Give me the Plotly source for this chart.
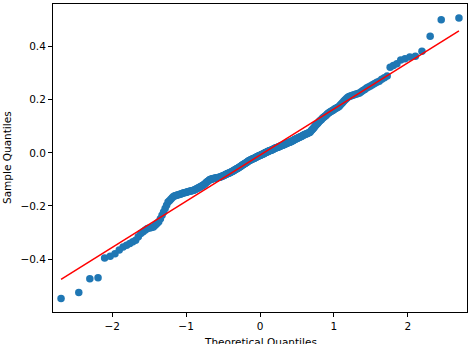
from statistics import NormalDist

import numpy as np
import plotly.graph_objects as go

# Ordered sample (residual) values, smallest to largest
sample_quantiles = [
    -0.549, -0.526, -0.474, -0.471, -0.396, -0.390, -0.380, -0.366, -0.355, -0.348,
    -0.342, -0.335, -0.329, -0.316, -0.304, -0.297, -0.291, -0.285, -0.283, -0.281,
    -0.279, -0.273, -0.266, -0.260, -0.248, -0.235, -0.223, -0.210, -0.197, -0.185,
    -0.180, -0.175, -0.169, -0.164, -0.162, -0.161, -0.159, -0.158, -0.156, -0.155,
    -0.153, -0.151, -0.150, -0.149, -0.148, -0.147, -0.146, -0.145, -0.144, -0.143,
    -0.142, -0.141, -0.139, -0.137, -0.135, -0.133, -0.131, -0.130, -0.128, -0.126,
    -0.124, -0.122, -0.119, -0.117, -0.114, -0.111, -0.108, -0.106, -0.103, -0.100,
    -0.099, -0.099, -0.098, -0.097, -0.097, -0.096, -0.095, -0.095, -0.094, -0.093,
    -0.093, -0.092, -0.091, -0.090, -0.088, -0.087, -0.086, -0.085, -0.083, -0.082,
    -0.081, -0.080, -0.078, -0.077, -0.076, -0.075, -0.073, -0.072, -0.070, -0.069,
    -0.067, -0.066, -0.064, -0.063, -0.061, -0.060, -0.058, -0.057, -0.055, -0.053,
    -0.051, -0.050, -0.048, -0.046, -0.045, -0.043, -0.041, -0.040, -0.038, -0.036,
    -0.035, -0.033, -0.031, -0.030, -0.028, -0.027, -0.026, -0.024, -0.023, -0.022,
    -0.021, -0.020, -0.018, -0.017, -0.016, -0.015, -0.014, -0.012, -0.011, -0.010,
    -0.009, -0.008, -0.006, -0.005, -0.004, -0.003, -0.002, 0.000, 0.001, 0.002,
    0.003, 0.004, 0.006, 0.007, 0.008, 0.009, 0.010, 0.011, 0.012, 0.013,
    0.015, 0.016, 0.017, 0.018, 0.019, 0.020, 0.021, 0.022, 0.023, 0.024,
    0.026, 0.027, 0.028, 0.029, 0.030, 0.031, 0.032, 0.033, 0.034, 0.035,
    0.037, 0.038, 0.039, 0.040, 0.041, 0.042, 0.044, 0.045, 0.047, 0.048,
    0.050, 0.051, 0.052, 0.054, 0.055, 0.057, 0.058, 0.060, 0.061, 0.062,
    0.064, 0.065, 0.067, 0.068, 0.070, 0.071, 0.072, 0.074, 0.075, 0.077,
    0.078, 0.082, 0.086, 0.089, 0.093, 0.097, 0.101, 0.105, 0.109, 0.112,
    0.116, 0.120, 0.123, 0.126, 0.130, 0.133, 0.136, 0.139, 0.142, 0.146,
    0.149, 0.152, 0.155, 0.157, 0.160, 0.162, 0.165, 0.167, 0.170, 0.172,
    0.175, 0.180, 0.185, 0.190, 0.195, 0.200, 0.205, 0.210, 0.212, 0.214,
    0.216, 0.218, 0.220, 0.222, 0.224, 0.226, 0.230, 0.235, 0.239, 0.244,
    0.248, 0.252, 0.257, 0.261, 0.266, 0.270, 0.277, 0.283, 0.290, 0.323,
    0.329, 0.336, 0.350, 0.355, 0.361, 0.364, 0.383, 0.439, 0.502, 0.508,
]

x_tick_values = [-2, -1, 0, 1, 2]
y_tick_values = [-0.4, -0.2, 0.0, 0.2, 0.4]
x_title = "Theoretical Quantiles"
y_title = "Sample Quantiles"

# Theoretical normal quantiles at plotting positions i / (n + 1)
n = len(sample_quantiles)
normal = NormalDist()
theoretical_quantiles = [normal.inv_cdf(i / (n + 1)) for i in range(1, n + 1)]

# Least-squares reference line through the QQ points
slope, intercept = np.polyfit(theoretical_quantiles, sample_quantiles, 1)
line_x = [theoretical_quantiles[0], theoretical_quantiles[-1]]
line_y = [intercept + slope * v for v in line_x]

fig = go.Figure()
fig.add_trace(go.Scatter(
    x=theoretical_quantiles, y=sample_quantiles, mode="markers",
    marker=dict(color="#1f77b4", size=7.5, line=dict(width=0)),
    showlegend=False, hoverinfo="skip",
))
fig.add_trace(go.Scatter(
    x=line_x, y=line_y, mode="lines",
    line=dict(color="#ff0000", width=1.5),
    showlegend=False, hoverinfo="skip",
))

font = dict(family="DejaVu Sans", size=10.5, color="#000000")
axis_common = dict(
    showgrid=False, zeroline=False, showline=True, mirror=True,
    linecolor="#000000", linewidth=1, ticks="outside", ticklen=4,
    tickwidth=1, tickcolor="#000000", tickfont=font,
)
fig.update_xaxes(range=[-2.80, 2.80], tickvals=x_tick_values,
                 tickformat="d", **axis_common)
fig.update_yaxes(range=[-0.5997, 0.561], tickvals=y_tick_values,
                 tickformat=".1f", **axis_common)

fig.add_annotation(text=x_title, xref="paper", yref="paper", x=0.5, y=0,
                   xanchor="center", yanchor="top", yshift=-22,
                   showarrow=False, font=font)
fig.add_annotation(text=y_title, xref="paper", yref="paper", x=0, y=0.5,
                   xanchor="center", yanchor="middle", xshift=-46,
                   textangle=-90, showarrow=False, font=font)

fig.update_layout(
    width=474, height=344,
    margin=dict(l=53, r=7, t=4, b=32),
    plot_bgcolor="#ffffff", paper_bgcolor="#ffffff",
)

fig.write_html("out.html")
